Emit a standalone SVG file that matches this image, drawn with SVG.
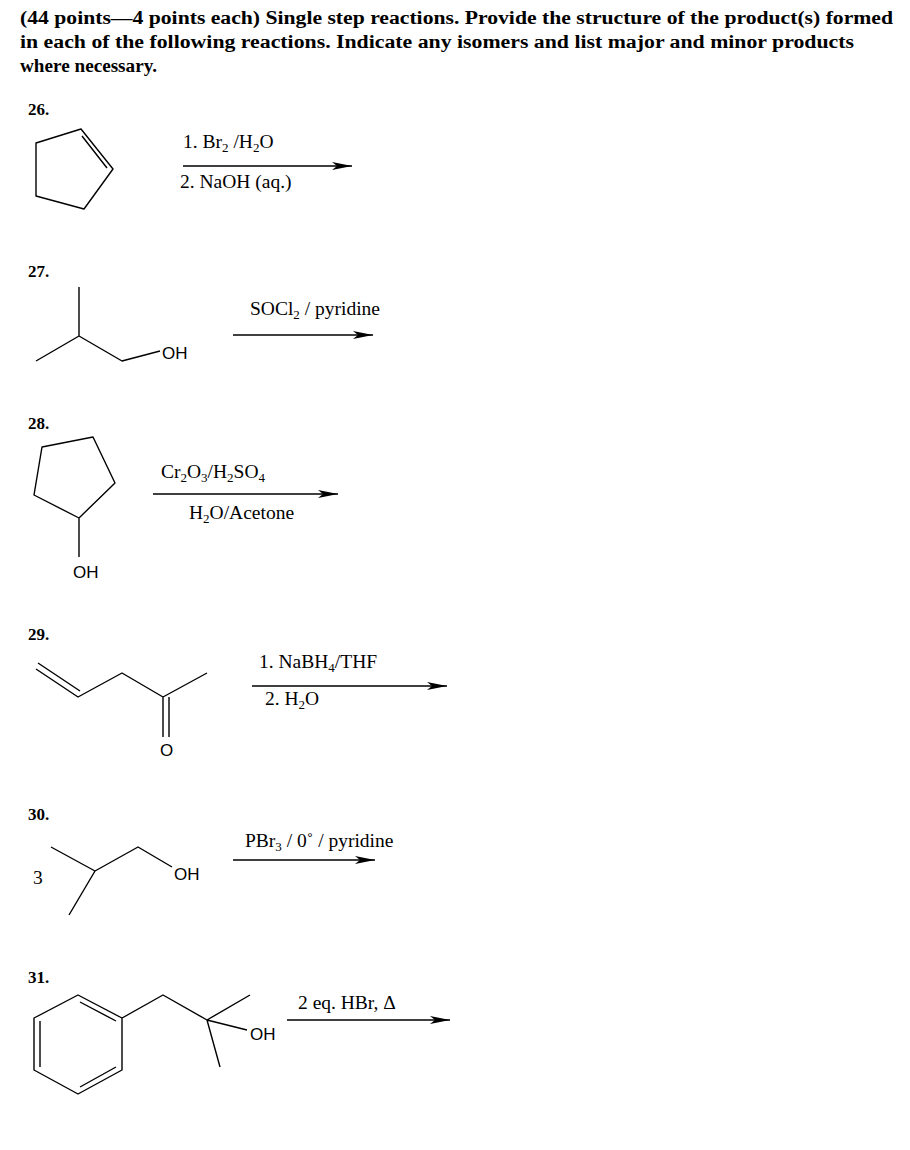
<svg xmlns="http://www.w3.org/2000/svg" width="910" height="1150" viewBox="0 0 910 1150">
<style>
.h{font-family:"Liberation Serif",serif;font-weight:bold;font-size:18.5px;fill:#000}
.n{font-family:"Liberation Serif",serif;font-weight:bold;font-size:17px;fill:#000}
.r{font-family:"Liberation Serif",serif;font-size:19.5px;fill:#000}
.s{font-size:13px}
.a{font-family:"Liberation Sans",Arial,sans-serif;font-size:17px;fill:#000}
.b{stroke:#000;stroke-width:1.4;fill:none;stroke-linejoin:round}
.ar{stroke:#000;stroke-width:1.3;fill:none}
</style>
<defs>
<marker id="ah" markerWidth="20" markerHeight="8" refX="20" refY="4" orient="auto" markerUnits="userSpaceOnUse">
<path d="M0,0 L20,4 L0,8 L5,4 Z" fill="#000"/>
</marker>
</defs>
<rect width="910" height="1150" fill="#fff"/>
<g id="header">
<text class="h" x="20" y="24" textLength="873" lengthAdjust="spacingAndGlyphs">(44 points—4 points each) Single step reactions. Provide the structure of the product(s) formed</text>
<text class="h" x="20" y="48" textLength="834" lengthAdjust="spacingAndGlyphs">in each of the following reactions. Indicate any isomers and list major and minor products</text>
<text class="h" x="20" y="72" textLength="137" lengthAdjust="spacingAndGlyphs">where necessary.</text>
</g>
<g id="labels">
<text class="n" x="28" y="115">26.</text>
<text class="n" x="28" y="277">27.</text>
<text class="n" x="28" y="429">28.</text>
<text class="n" x="28" y="640">29.</text>
<text class="n" x="28" y="820">30.</text>
<text class="n" x="28" y="983">31.</text>
</g>
<g id="m26">
<path class="b" d="M36,143 L81,129 L113,169 L84,209 L36,196 Z M82,136 L107,168"/>
</g>
<g id="m27">
<path class="b" d="M79,287 L79,336 M36,361 L79,336 L122,361 L160,351"/>
<text class="a" x="162" y="359">OH</text>
</g>
<g id="m28">
<path class="b" d="M42,447 L93,437 L115,483 L79,518 L34,495 Z M79,518 L79,557"/>
<text class="a" x="73" y="578">OH</text>
</g>
<g id="m29">
<path class="b" d="M36,669 L78,697 L122,673 L163,697 L207,673 M38,663 L80,691 M163,697 L163,737 M169,697 L169,737"/>
<text class="a" x="160" y="756">O</text>
</g>
<g id="m30">
<path class="b" d="M51,847 L95,871 L138,847 L172,867 M95,871 L69,915"/>
<text class="r" x="33" y="884">3</text>
<text class="a" x="174" y="880">OH</text>
</g>
<g id="m31">
<path class="b" d="M78,995 L122,1018 L122,1070 L78,1094 L34,1070 L34,1018 Z M80,1002 L116,1021 M40,1021 L40,1067 M116,1067 L80,1087 M122,1018 L163,995 L207,1020 L250,995 M207,1020 L247,1030 M207,1020 L220,1067"/>
<text class="a" x="250" y="1040">OH</text>
</g>
<g id="connectors">
<line class="ar" x1="183" y1="166" x2="352" y2="166" marker-end="url(#ah)"/>
<line class="ar" x1="233" y1="335" x2="373" y2="335" marker-end="url(#ah)"/>
<line class="ar" x1="153" y1="494" x2="338" y2="494" marker-end="url(#ah)"/>
<line class="ar" x1="252" y1="686" x2="447" y2="686" marker-end="url(#ah)"/>
<line class="ar" x1="233" y1="860" x2="375" y2="860" marker-end="url(#ah)"/>
<line class="ar" x1="287" y1="1020" x2="450" y2="1020" marker-end="url(#ah)"/>
</g>
<g id="reagents">
<text class="r" x="183" y="148">1. Br<tspan class="s" dy="4">2</tspan><tspan dy="-4"> /H</tspan><tspan class="s" dy="4">2</tspan><tspan dy="-4">O</tspan></text>
<text class="r" x="180" y="188">2.  NaOH (aq.)</text>
<text class="r" x="250" y="315">SOCl<tspan class="s" dy="4">2</tspan><tspan dy="-4"> / pyridine</tspan></text>
<text class="r" x="161" y="478">Cr<tspan class="s" dy="4">2</tspan><tspan dy="-4">O</tspan><tspan class="s" dy="4">3</tspan><tspan dy="-4">/H</tspan><tspan class="s" dy="4">2</tspan><tspan dy="-4">SO</tspan><tspan class="s" dy="4">4</tspan></text>
<text class="r" x="189" y="519">H<tspan class="s" dy="4">2</tspan><tspan dy="-4">O/Acetone</tspan></text>
<text class="r" x="259" y="668">1. NaBH<tspan class="s" dy="4">4</tspan><tspan dy="-4">/THF</tspan></text>
<text class="r" x="265" y="705">2. H<tspan class="s" dy="4">2</tspan><tspan dy="-4">O</tspan></text>
<text class="r" x="245" y="847">PBr<tspan class="s" dy="4">3</tspan><tspan dy="-4"> / 0˚ / pyridine</tspan></text>
<text class="r" x="298" y="1009">2 eq. HBr, Δ</text>
</g>
</svg>
